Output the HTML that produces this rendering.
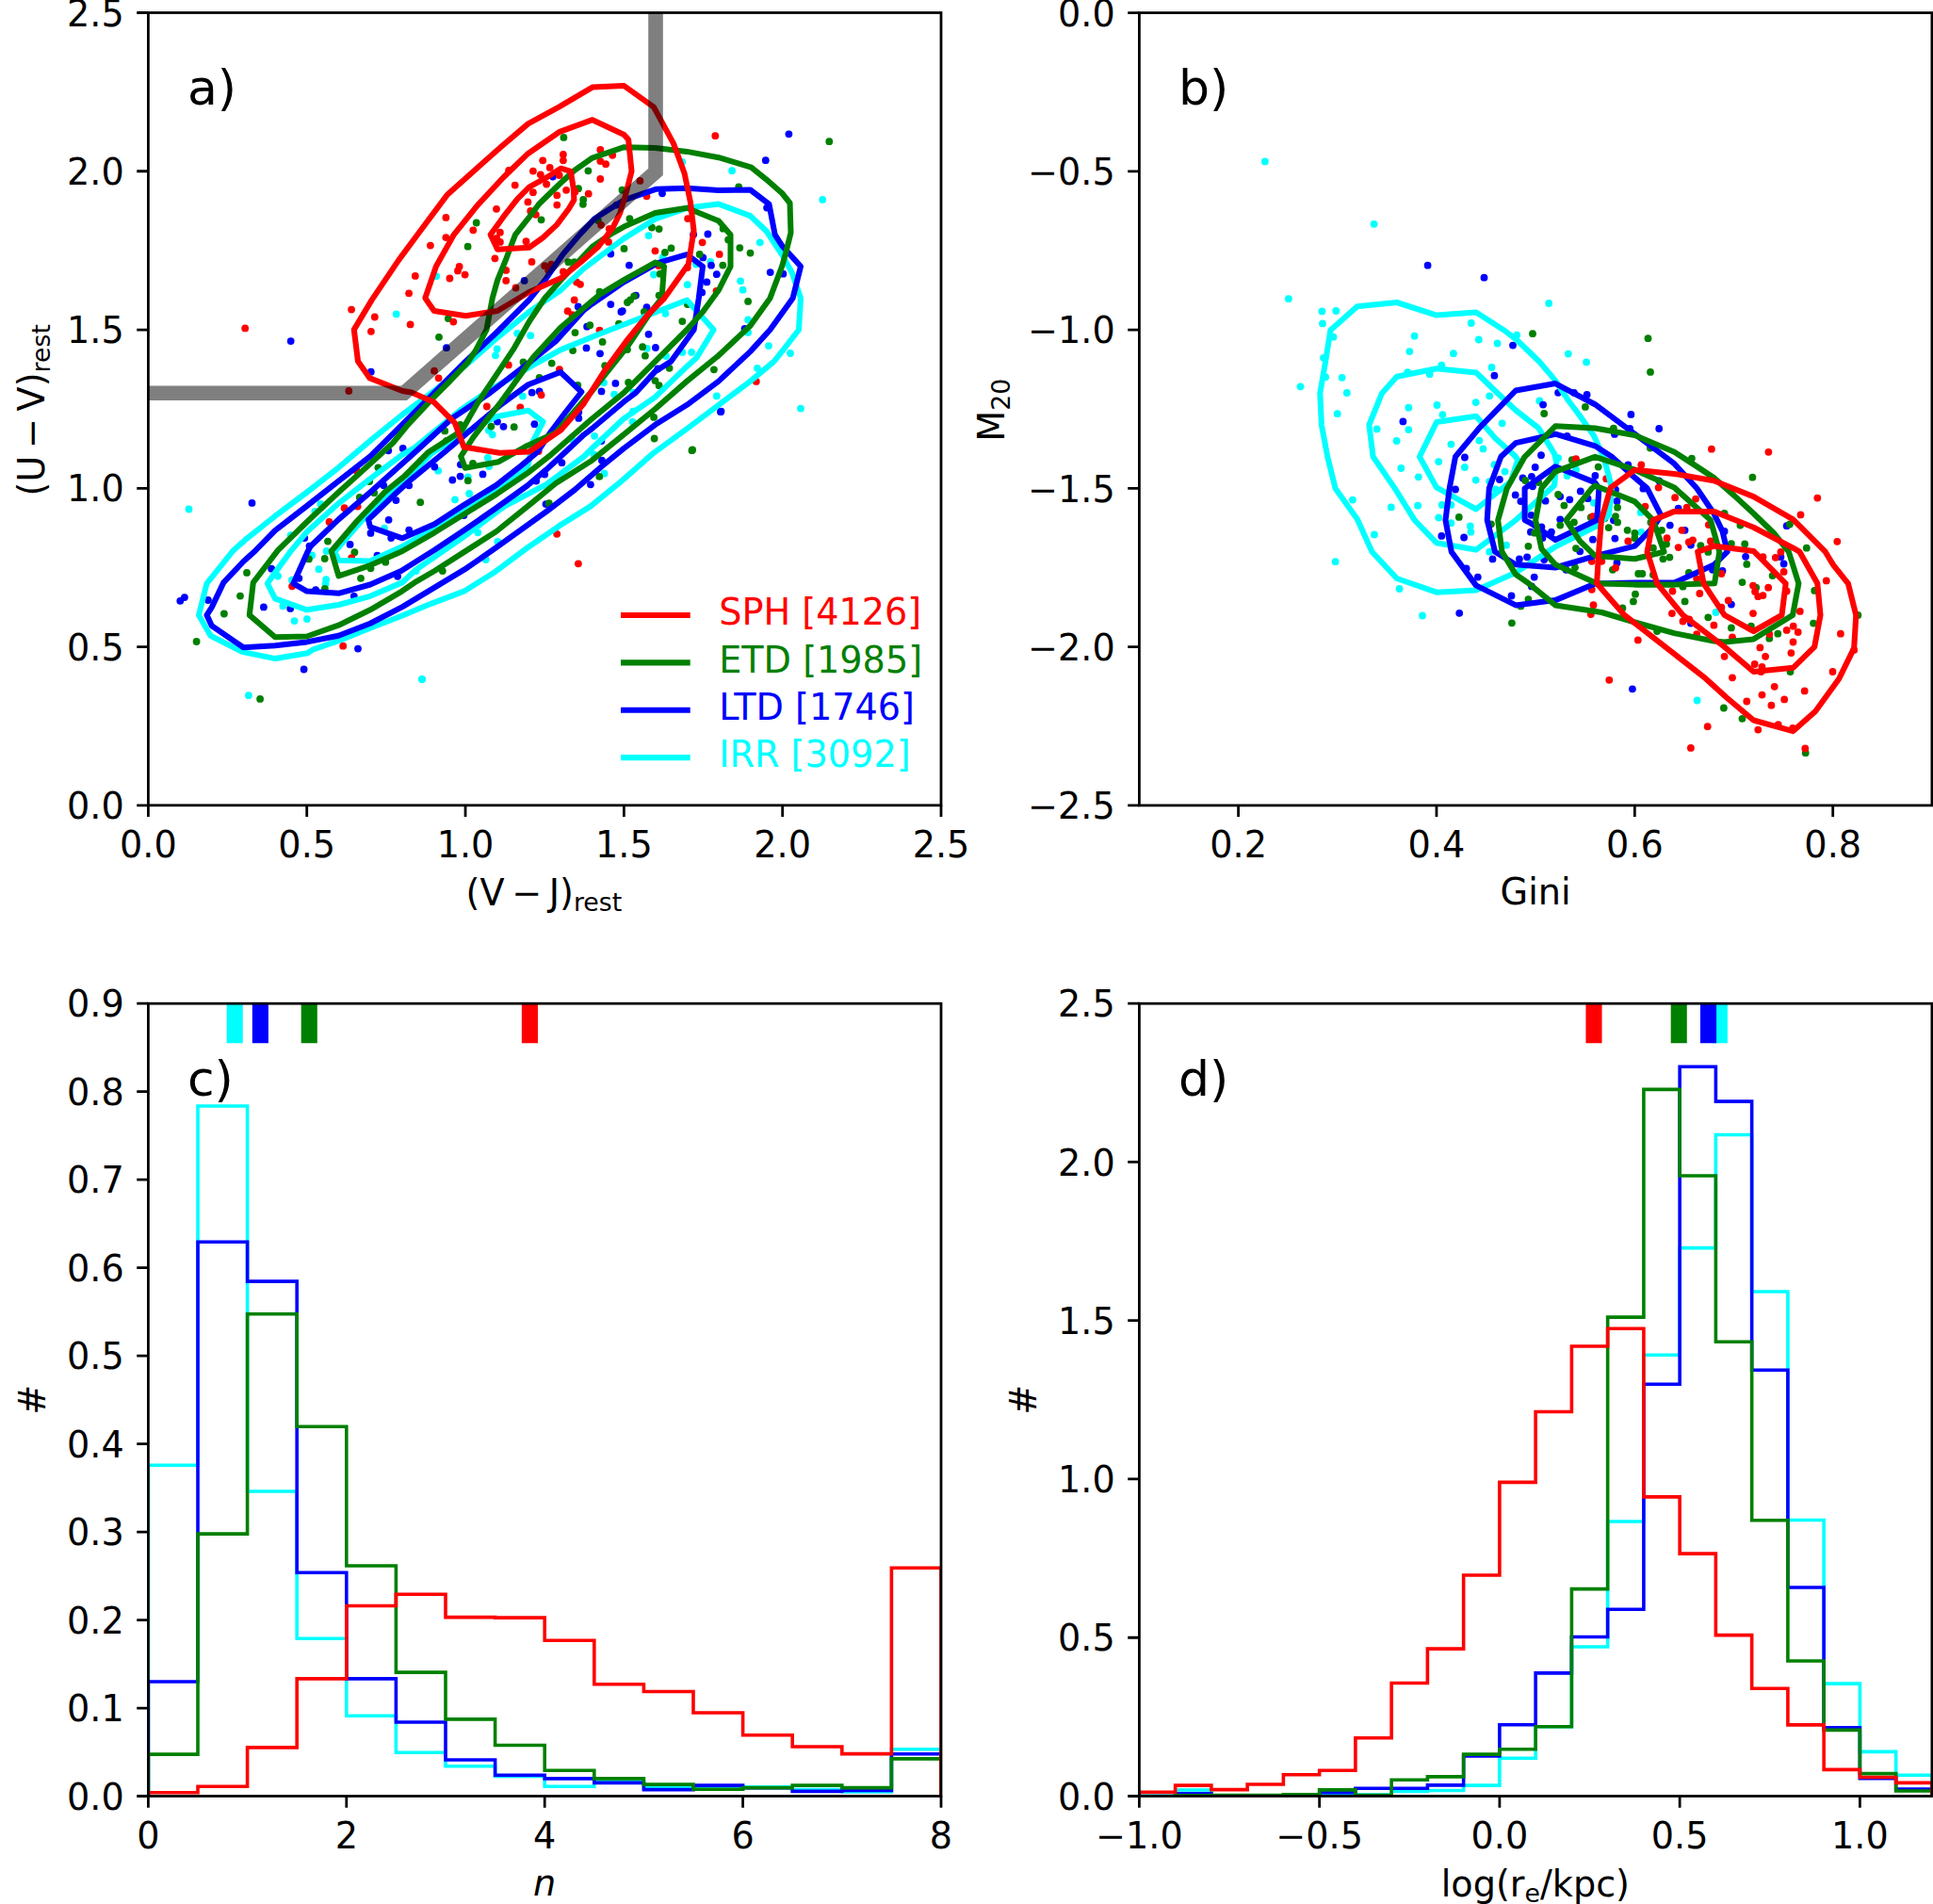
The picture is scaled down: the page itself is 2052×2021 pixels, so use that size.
<!DOCTYPE html>
<html><head><meta charset="utf-8"><title>figure</title><style>html,body{margin:0;padding:0;background:#fff}svg{display:block}</style></head><body>
<svg width="2052" height="2021" viewBox="0 0 2052 2021" font-family="'DejaVu Sans', 'Liberation Sans', sans-serif" font-size="38.19" fill="#000">
<rect width="2052" height="2021" fill="#fff"/>
<defs>
<clipPath id="cpa"><rect x="157.40" y="13.50" width="841.60" height="841.30"/></clipPath>
<clipPath id="cpb"><rect x="1209.40" y="13.60" width="841.50" height="841.30"/></clipPath>
<clipPath id="cpc"><rect x="157.40" y="1065.20" width="841.60" height="841.30"/></clipPath>
<clipPath id="cpd"><rect x="1209.40" y="1065.20" width="841.50" height="841.30"/></clipPath>
</defs>
<g clip-path="url(#cpa)">
<circle cx="420.7" cy="333.4" r="3.9" fill="#00ffff"/>
<circle cx="463.2" cy="293.2" r="3.9" fill="#00ffff"/>
<circle cx="549.1" cy="353.8" r="3.9" fill="#00ffff"/>
<circle cx="563.2" cy="356.2" r="3.9" fill="#00ffff"/>
<circle cx="724.3" cy="171.8" r="3.9" fill="#00ffff"/>
<circle cx="777.1" cy="181.2" r="3.9" fill="#00ffff"/>
<circle cx="873.2" cy="211.9" r="3.9" fill="#00ffff"/>
<circle cx="688.5" cy="250.1" r="3.9" fill="#00ffff"/>
<circle cx="806.7" cy="257.3" r="3.9" fill="#00ffff"/>
<circle cx="703.5" cy="273.4" r="3.9" fill="#00ffff"/>
<circle cx="754.2" cy="277.8" r="3.9" fill="#00ffff"/>
<circle cx="738.9" cy="280.5" r="3.9" fill="#00ffff"/>
<circle cx="694.0" cy="291.5" r="3.9" fill="#00ffff"/>
<circle cx="786.1" cy="298.3" r="3.9" fill="#00ffff"/>
<circle cx="729.8" cy="302.2" r="3.9" fill="#00ffff"/>
<circle cx="788.6" cy="307.7" r="3.9" fill="#00ffff"/>
<circle cx="706.5" cy="332.8" r="3.9" fill="#00ffff"/>
<circle cx="794.1" cy="339.5" r="3.9" fill="#00ffff"/>
<circle cx="794.1" cy="352.9" r="3.9" fill="#00ffff"/>
<circle cx="816.0" cy="367.1" r="3.9" fill="#00ffff"/>
<circle cx="686.8" cy="369.8" r="3.9" fill="#00ffff"/>
<circle cx="724.3" cy="373.9" r="3.9" fill="#00ffff"/>
<circle cx="734.2" cy="373.9" r="3.9" fill="#00ffff"/>
<circle cx="839.0" cy="375.0" r="3.9" fill="#00ffff"/>
<circle cx="707.0" cy="378.1" r="3.9" fill="#00ffff"/>
<circle cx="803.9" cy="390.8" r="3.9" fill="#00ffff"/>
<circle cx="760.8" cy="420.4" r="3.9" fill="#00ffff"/>
<circle cx="672.3" cy="416.7" r="3.9" fill="#00ffff"/>
<circle cx="850.0" cy="433.6" r="3.9" fill="#00ffff"/>
<circle cx="671.5" cy="447.7" r="3.9" fill="#00ffff"/>
<circle cx="630.5" cy="482.4" r="3.9" fill="#00ffff"/>
<circle cx="200.5" cy="540.5" r="3.9" fill="#00ffff"/>
<circle cx="340.3" cy="535.0" r="3.9" fill="#00ffff"/>
<circle cx="334.4" cy="542.9" r="3.9" fill="#00ffff"/>
<circle cx="308.6" cy="568.2" r="3.9" fill="#00ffff"/>
<circle cx="346.6" cy="584.9" r="3.9" fill="#00ffff"/>
<circle cx="338.4" cy="604.2" r="3.9" fill="#00ffff"/>
<circle cx="331.2" cy="589.5" r="3.9" fill="#00ffff"/>
<circle cx="295.0" cy="611.5" r="3.9" fill="#00ffff"/>
<circle cx="309.9" cy="615.7" r="3.9" fill="#00ffff"/>
<circle cx="346.2" cy="615.1" r="3.9" fill="#00ffff"/>
<circle cx="345.6" cy="619.7" r="3.9" fill="#00ffff"/>
<circle cx="300.3" cy="643.3" r="3.9" fill="#00ffff"/>
<circle cx="312.5" cy="659.1" r="3.9" fill="#00ffff"/>
<circle cx="325.9" cy="657.1" r="3.9" fill="#00ffff"/>
<circle cx="408.0" cy="560.6" r="3.9" fill="#00ffff"/>
<circle cx="408.0" cy="530.4" r="3.9" fill="#00ffff"/>
<circle cx="465.2" cy="499.7" r="3.9" fill="#00ffff"/>
<circle cx="519.1" cy="495.1" r="3.9" fill="#00ffff"/>
<circle cx="517.8" cy="485.9" r="3.9" fill="#00ffff"/>
<circle cx="496.8" cy="506.3" r="3.9" fill="#00ffff"/>
<circle cx="498.1" cy="524.0" r="3.9" fill="#00ffff"/>
<circle cx="483.0" cy="530.3" r="3.9" fill="#00ffff"/>
<circle cx="486.9" cy="544.3" r="3.9" fill="#00ffff"/>
<circle cx="533.5" cy="537.8" r="3.9" fill="#00ffff"/>
<circle cx="507.3" cy="565.3" r="3.9" fill="#00ffff"/>
<circle cx="528.3" cy="574.8" r="3.9" fill="#00ffff"/>
<circle cx="515.8" cy="594.0" r="3.9" fill="#00ffff"/>
<circle cx="441.6" cy="606.1" r="3.9" fill="#00ffff"/>
<circle cx="448.2" cy="720.9" r="3.9" fill="#00ffff"/>
<circle cx="672.1" cy="436.6" r="3.9" fill="#00ffff"/>
<circle cx="631.1" cy="462.8" r="3.9" fill="#00ffff"/>
<circle cx="606.9" cy="466.0" r="3.9" fill="#00ffff"/>
<circle cx="641.6" cy="502.7" r="3.9" fill="#00ffff"/>
<circle cx="527.7" cy="370.4" r="3.9" fill="#00ffff"/>
<circle cx="526.0" cy="377.3" r="3.9" fill="#00ffff"/>
<circle cx="554.9" cy="420.6" r="3.9" fill="#00ffff"/>
<circle cx="640.9" cy="406.2" r="3.9" fill="#00ffff"/>
<circle cx="652.1" cy="418.7" r="3.9" fill="#00ffff"/>
<circle cx="522.7" cy="461.3" r="3.9" fill="#00ffff"/>
<circle cx="518.8" cy="456.8" r="3.9" fill="#00ffff"/>
<circle cx="447.9" cy="720.9" r="3.9" fill="#00ffff"/>
<circle cx="263.9" cy="738.2" r="3.9" fill="#00ffff"/>
<circle cx="586.9" cy="187.6" r="3.9" fill="#0000ff"/>
<circle cx="556.6" cy="297.9" r="3.9" fill="#0000ff"/>
<circle cx="613.7" cy="325.5" r="3.9" fill="#0000ff"/>
<circle cx="648.3" cy="323.1" r="3.9" fill="#0000ff"/>
<circle cx="623.1" cy="346.7" r="3.9" fill="#0000ff"/>
<circle cx="659.4" cy="331.0" r="3.9" fill="#0000ff"/>
<circle cx="648.3" cy="269.5" r="3.9" fill="#0000ff"/>
<circle cx="654.6" cy="217.6" r="3.9" fill="#0000ff"/>
<circle cx="837.4" cy="142.3" r="3.9" fill="#0000ff"/>
<circle cx="812.8" cy="170.2" r="3.9" fill="#0000ff"/>
<circle cx="703.0" cy="205.3" r="3.9" fill="#0000ff"/>
<circle cx="814.1" cy="220.6" r="3.9" fill="#0000ff"/>
<circle cx="751.4" cy="248.5" r="3.9" fill="#0000ff"/>
<circle cx="736.1" cy="249.0" r="3.9" fill="#0000ff"/>
<circle cx="667.9" cy="281.6" r="3.9" fill="#0000ff"/>
<circle cx="746.3" cy="273.4" r="3.9" fill="#0000ff"/>
<circle cx="755.0" cy="281.7" r="3.9" fill="#0000ff"/>
<circle cx="760.8" cy="291.2" r="3.9" fill="#0000ff"/>
<circle cx="750.3" cy="299.4" r="3.9" fill="#0000ff"/>
<circle cx="817.7" cy="289.1" r="3.9" fill="#0000ff"/>
<circle cx="831.4" cy="290.7" r="3.9" fill="#0000ff"/>
<circle cx="745.2" cy="310.4" r="3.9" fill="#0000ff"/>
<circle cx="675.0" cy="313.6" r="3.9" fill="#0000ff"/>
<circle cx="660.8" cy="330.1" r="3.9" fill="#0000ff"/>
<circle cx="686.5" cy="326.2" r="3.9" fill="#0000ff"/>
<circle cx="790.5" cy="349.0" r="3.9" fill="#0000ff"/>
<circle cx="688.5" cy="354.8" r="3.9" fill="#0000ff"/>
<circle cx="695.9" cy="369.0" r="3.9" fill="#0000ff"/>
<circle cx="698.3" cy="391.5" r="3.9" fill="#0000ff"/>
<circle cx="765.0" cy="437.2" r="3.9" fill="#0000ff"/>
<circle cx="638.9" cy="488.7" r="3.9" fill="#0000ff"/>
<circle cx="267.5" cy="533.9" r="3.9" fill="#0000ff"/>
<circle cx="412.3" cy="478.3" r="3.9" fill="#0000ff"/>
<circle cx="427.7" cy="475.9" r="3.9" fill="#0000ff"/>
<circle cx="407.3" cy="515.3" r="3.9" fill="#0000ff"/>
<circle cx="434.2" cy="515.3" r="3.9" fill="#0000ff"/>
<circle cx="420.4" cy="531.1" r="3.9" fill="#0000ff"/>
<circle cx="412.6" cy="551.8" r="3.9" fill="#0000ff"/>
<circle cx="434.2" cy="562.6" r="3.9" fill="#0000ff"/>
<circle cx="393.5" cy="565.9" r="3.9" fill="#0000ff"/>
<circle cx="415.2" cy="571.1" r="3.9" fill="#0000ff"/>
<circle cx="323.3" cy="571.1" r="3.9" fill="#0000ff"/>
<circle cx="328.5" cy="579.6" r="3.9" fill="#0000ff"/>
<circle cx="371.6" cy="577.9" r="3.9" fill="#0000ff"/>
<circle cx="400.5" cy="589.7" r="3.9" fill="#0000ff"/>
<circle cx="288.2" cy="603.7" r="3.9" fill="#0000ff"/>
<circle cx="317.4" cy="613.8" r="3.9" fill="#0000ff"/>
<circle cx="195.9" cy="634.1" r="3.9" fill="#0000ff"/>
<circle cx="191.3" cy="637.8" r="3.9" fill="#0000ff"/>
<circle cx="220.9" cy="637.0" r="3.9" fill="#0000ff"/>
<circle cx="279.9" cy="644.4" r="3.9" fill="#0000ff"/>
<circle cx="308.2" cy="645.9" r="3.9" fill="#0000ff"/>
<circle cx="375.8" cy="632.8" r="3.9" fill="#0000ff"/>
<circle cx="335.1" cy="626.2" r="3.9" fill="#0000ff"/>
<circle cx="422.1" cy="611.8" r="3.9" fill="#0000ff"/>
<circle cx="380.0" cy="688.6" r="3.9" fill="#0000ff"/>
<circle cx="322.6" cy="710.5" r="3.9" fill="#0000ff"/>
<circle cx="461.3" cy="495.5" r="3.9" fill="#0000ff"/>
<circle cx="488.9" cy="493.1" r="3.9" fill="#0000ff"/>
<circle cx="512.5" cy="503.4" r="3.9" fill="#0000ff"/>
<circle cx="488.6" cy="505.6" r="3.9" fill="#0000ff"/>
<circle cx="480.3" cy="509.5" r="3.9" fill="#0000ff"/>
<circle cx="569.2" cy="510.5" r="3.9" fill="#0000ff"/>
<circle cx="578.2" cy="503.6" r="3.9" fill="#0000ff"/>
<circle cx="579.5" cy="535.1" r="3.9" fill="#0000ff"/>
<circle cx="492.4" cy="547.0" r="3.9" fill="#0000ff"/>
<circle cx="614.3" cy="437.6" r="3.9" fill="#0000ff"/>
<circle cx="614.3" cy="443.9" r="3.9" fill="#0000ff"/>
<circle cx="765.5" cy="436.6" r="3.9" fill="#0000ff"/>
<circle cx="638.4" cy="468.1" r="3.9" fill="#0000ff"/>
<circle cx="596.4" cy="491.2" r="3.9" fill="#0000ff"/>
<circle cx="626.9" cy="514.3" r="3.9" fill="#0000ff"/>
<circle cx="473.9" cy="369.2" r="3.9" fill="#0000ff"/>
<circle cx="622.5" cy="369.4" r="3.9" fill="#0000ff"/>
<circle cx="637.0" cy="375.3" r="3.9" fill="#0000ff"/>
<circle cx="564.7" cy="416.7" r="3.9" fill="#0000ff"/>
<circle cx="572.6" cy="415.4" r="3.9" fill="#0000ff"/>
<circle cx="653.4" cy="406.9" r="3.9" fill="#0000ff"/>
<circle cx="638.5" cy="415.4" r="3.9" fill="#0000ff"/>
<circle cx="534.5" cy="452.8" r="3.9" fill="#0000ff"/>
<circle cx="567.4" cy="450.2" r="3.9" fill="#0000ff"/>
<circle cx="528.0" cy="447.6" r="3.9" fill="#0000ff"/>
<circle cx="308.7" cy="362.1" r="3.9" fill="#0000ff"/>
<circle cx="393.8" cy="394.7" r="3.9" fill="#0000ff"/>
<circle cx="598.4" cy="145.9" r="3.9" fill="#008000"/>
<circle cx="624.4" cy="181.3" r="3.9" fill="#008000"/>
<circle cx="614.0" cy="200.2" r="3.9" fill="#008000"/>
<circle cx="619.2" cy="212.0" r="3.9" fill="#008000"/>
<circle cx="618.9" cy="216.8" r="3.9" fill="#008000"/>
<circle cx="574.6" cy="233.3" r="3.9" fill="#008000"/>
<circle cx="505.7" cy="236.5" r="3.9" fill="#008000"/>
<circle cx="496.6" cy="261.7" r="3.9" fill="#008000"/>
<circle cx="603.4" cy="278.2" r="3.9" fill="#008000"/>
<circle cx="609.7" cy="278.2" r="3.9" fill="#008000"/>
<circle cx="475.8" cy="338.1" r="3.9" fill="#008000"/>
<circle cx="466.0" cy="357.8" r="3.9" fill="#008000"/>
<circle cx="636.5" cy="309.7" r="3.9" fill="#008000"/>
<circle cx="626.3" cy="345.2" r="3.9" fill="#008000"/>
<circle cx="610.5" cy="353.1" r="3.9" fill="#008000"/>
<circle cx="657.0" cy="343.6" r="3.9" fill="#008000"/>
<circle cx="634.9" cy="234.1" r="3.9" fill="#008000"/>
<circle cx="880.3" cy="150.2" r="3.9" fill="#008000"/>
<circle cx="784.2" cy="198.5" r="3.9" fill="#008000"/>
<circle cx="660.5" cy="201.7" r="3.9" fill="#008000"/>
<circle cx="668.4" cy="232.1" r="3.9" fill="#008000"/>
<circle cx="692.0" cy="241.5" r="3.9" fill="#008000"/>
<circle cx="699.6" cy="243.1" r="3.9" fill="#008000"/>
<circle cx="767.6" cy="242.7" r="3.9" fill="#008000"/>
<circle cx="773.1" cy="254.5" r="3.9" fill="#008000"/>
<circle cx="662.5" cy="263.9" r="3.9" fill="#008000"/>
<circle cx="712.5" cy="263.4" r="3.9" fill="#008000"/>
<circle cx="705.9" cy="267.9" r="3.9" fill="#008000"/>
<circle cx="785.3" cy="263.1" r="3.9" fill="#008000"/>
<circle cx="796.5" cy="268.6" r="3.9" fill="#008000"/>
<circle cx="742.7" cy="269.9" r="3.9" fill="#008000"/>
<circle cx="767.3" cy="281.6" r="3.9" fill="#008000"/>
<circle cx="700.7" cy="290.7" r="3.9" fill="#008000"/>
<circle cx="699.6" cy="313.6" r="3.9" fill="#008000"/>
<circle cx="794.1" cy="319.9" r="3.9" fill="#008000"/>
<circle cx="673.1" cy="314.3" r="3.9" fill="#008000"/>
<circle cx="669.1" cy="318.3" r="3.9" fill="#008000"/>
<circle cx="666.0" cy="321.0" r="3.9" fill="#008000"/>
<circle cx="729.8" cy="323.0" r="3.9" fill="#008000"/>
<circle cx="683.8" cy="330.9" r="3.9" fill="#008000"/>
<circle cx="724.3" cy="341.1" r="3.9" fill="#008000"/>
<circle cx="682.1" cy="368.2" r="3.9" fill="#008000"/>
<circle cx="666.0" cy="371.1" r="3.9" fill="#008000"/>
<circle cx="684.9" cy="377.7" r="3.9" fill="#008000"/>
<circle cx="710.6" cy="390.8" r="3.9" fill="#008000"/>
<circle cx="757.9" cy="392.3" r="3.9" fill="#008000"/>
<circle cx="667.1" cy="406.0" r="3.9" fill="#008000"/>
<circle cx="695.5" cy="404.1" r="3.9" fill="#008000"/>
<circle cx="699.6" cy="409.2" r="3.9" fill="#008000"/>
<circle cx="694.6" cy="465.5" r="3.9" fill="#008000"/>
<circle cx="734.5" cy="478.2" r="3.9" fill="#008000"/>
<circle cx="401.4" cy="496.3" r="3.9" fill="#008000"/>
<circle cx="392.2" cy="511.0" r="3.9" fill="#008000"/>
<circle cx="397.2" cy="523.2" r="3.9" fill="#008000"/>
<circle cx="381.7" cy="527.8" r="3.9" fill="#008000"/>
<circle cx="348.0" cy="574.6" r="3.9" fill="#008000"/>
<circle cx="376.4" cy="586.2" r="3.9" fill="#008000"/>
<circle cx="344.7" cy="593.0" r="3.9" fill="#008000"/>
<circle cx="327.9" cy="593.4" r="3.9" fill="#008000"/>
<circle cx="262.0" cy="607.9" r="3.9" fill="#008000"/>
<circle cx="383.0" cy="613.8" r="3.9" fill="#008000"/>
<circle cx="393.5" cy="603.3" r="3.9" fill="#008000"/>
<circle cx="409.3" cy="596.7" r="3.9" fill="#008000"/>
<circle cx="255.0" cy="632.6" r="3.9" fill="#008000"/>
<circle cx="237.9" cy="651.5" r="3.9" fill="#008000"/>
<circle cx="344.9" cy="624.9" r="3.9" fill="#008000"/>
<circle cx="208.6" cy="681.0" r="3.9" fill="#008000"/>
<circle cx="502.0" cy="491.8" r="3.9" fill="#008000"/>
<circle cx="496.8" cy="510.2" r="3.9" fill="#008000"/>
<circle cx="446.2" cy="533.2" r="3.9" fill="#008000"/>
<circle cx="469.8" cy="606.1" r="3.9" fill="#008000"/>
<circle cx="694.1" cy="442.9" r="3.9" fill="#008000"/>
<circle cx="735.1" cy="477.5" r="3.9" fill="#008000"/>
<circle cx="636.3" cy="505.9" r="3.9" fill="#008000"/>
<circle cx="582.8" cy="534.2" r="3.9" fill="#008000"/>
<circle cx="639.6" cy="362.9" r="3.9" fill="#008000"/>
<circle cx="608.1" cy="372.1" r="3.9" fill="#008000"/>
<circle cx="585.7" cy="385.6" r="3.9" fill="#008000"/>
<circle cx="555.5" cy="384.5" r="3.9" fill="#008000"/>
<circle cx="642.2" cy="388.2" r="3.9" fill="#008000"/>
<circle cx="572.6" cy="401.0" r="3.9" fill="#008000"/>
<circle cx="613.3" cy="408.8" r="3.9" fill="#008000"/>
<circle cx="545.7" cy="453.2" r="3.9" fill="#008000"/>
<circle cx="521.4" cy="452.6" r="3.9" fill="#008000"/>
<circle cx="488.6" cy="450.8" r="3.9" fill="#008000"/>
<circle cx="472.2" cy="457.4" r="3.9" fill="#008000"/>
<circle cx="474.1" cy="467.9" r="3.9" fill="#008000"/>
<circle cx="276.1" cy="741.9" r="3.9" fill="#008000"/>
<circle cx="597.9" cy="164.0" r="3.9" fill="#ff0000"/>
<circle cx="597.9" cy="170.3" r="3.9" fill="#ff0000"/>
<circle cx="576.2" cy="170.3" r="3.9" fill="#ff0000"/>
<circle cx="637.3" cy="158.9" r="3.9" fill="#ff0000"/>
<circle cx="650.2" cy="164.8" r="3.9" fill="#ff0000"/>
<circle cx="637.3" cy="171.1" r="3.9" fill="#ff0000"/>
<circle cx="643.1" cy="174.2" r="3.9" fill="#ff0000"/>
<circle cx="583.7" cy="177.9" r="3.9" fill="#ff0000"/>
<circle cx="540.1" cy="181.0" r="3.9" fill="#ff0000"/>
<circle cx="565.9" cy="181.6" r="3.9" fill="#ff0000"/>
<circle cx="573.8" cy="185.3" r="3.9" fill="#ff0000"/>
<circle cx="593.7" cy="186.0" r="3.9" fill="#ff0000"/>
<circle cx="637.3" cy="190.0" r="3.9" fill="#ff0000"/>
<circle cx="580.1" cy="195.5" r="3.9" fill="#ff0000"/>
<circle cx="546.7" cy="196.6" r="3.9" fill="#ff0000"/>
<circle cx="601.1" cy="201.8" r="3.9" fill="#ff0000"/>
<circle cx="565.9" cy="204.2" r="3.9" fill="#ff0000"/>
<circle cx="610.5" cy="203.4" r="3.9" fill="#ff0000"/>
<circle cx="591.3" cy="207.3" r="3.9" fill="#ff0000"/>
<circle cx="624.7" cy="205.7" r="3.9" fill="#ff0000"/>
<circle cx="560.4" cy="214.4" r="3.9" fill="#ff0000"/>
<circle cx="591.3" cy="217.6" r="3.9" fill="#ff0000"/>
<circle cx="527.0" cy="221.8" r="3.9" fill="#ff0000"/>
<circle cx="563.2" cy="223.9" r="3.9" fill="#ff0000"/>
<circle cx="568.8" cy="227.8" r="3.9" fill="#ff0000"/>
<circle cx="473.4" cy="230.9" r="3.9" fill="#ff0000"/>
<circle cx="530.9" cy="246.7" r="3.9" fill="#ff0000"/>
<circle cx="502.3" cy="244.3" r="3.9" fill="#ff0000"/>
<circle cx="473.4" cy="252.2" r="3.9" fill="#ff0000"/>
<circle cx="530.9" cy="256.9" r="3.9" fill="#ff0000"/>
<circle cx="527.3" cy="253.0" r="3.9" fill="#ff0000"/>
<circle cx="558.5" cy="256.2" r="3.9" fill="#ff0000"/>
<circle cx="456.9" cy="260.6" r="3.9" fill="#ff0000"/>
<circle cx="525.4" cy="274.3" r="3.9" fill="#ff0000"/>
<circle cx="564.5" cy="277.9" r="3.9" fill="#ff0000"/>
<circle cx="487.6" cy="282.9" r="3.9" fill="#ff0000"/>
<circle cx="486.0" cy="287.4" r="3.9" fill="#ff0000"/>
<circle cx="493.6" cy="291.6" r="3.9" fill="#ff0000"/>
<circle cx="477.4" cy="295.5" r="3.9" fill="#ff0000"/>
<circle cx="537.2" cy="286.9" r="3.9" fill="#ff0000"/>
<circle cx="440.8" cy="292.9" r="3.9" fill="#ff0000"/>
<circle cx="537.2" cy="297.9" r="3.9" fill="#ff0000"/>
<circle cx="547.5" cy="305.5" r="3.9" fill="#ff0000"/>
<circle cx="578.2" cy="282.2" r="3.9" fill="#ff0000"/>
<circle cx="585.3" cy="280.6" r="3.9" fill="#ff0000"/>
<circle cx="582.2" cy="286.9" r="3.9" fill="#ff0000"/>
<circle cx="434.1" cy="311.3" r="3.9" fill="#ff0000"/>
<circle cx="373.1" cy="328.6" r="3.9" fill="#ff0000"/>
<circle cx="397.8" cy="336.5" r="3.9" fill="#ff0000"/>
<circle cx="435.6" cy="344.4" r="3.9" fill="#ff0000"/>
<circle cx="481.3" cy="341.6" r="3.9" fill="#ff0000"/>
<circle cx="393.9" cy="351.8" r="3.9" fill="#ff0000"/>
<circle cx="597.9" cy="288.5" r="3.9" fill="#ff0000"/>
<circle cx="612.1" cy="299.5" r="3.9" fill="#ff0000"/>
<circle cx="616.0" cy="301.8" r="3.9" fill="#ff0000"/>
<circle cx="609.7" cy="318.4" r="3.9" fill="#ff0000"/>
<circle cx="602.6" cy="330.2" r="3.9" fill="#ff0000"/>
<circle cx="607.4" cy="334.1" r="3.9" fill="#ff0000"/>
<circle cx="646.0" cy="256.9" r="3.9" fill="#ff0000"/>
<circle cx="638.1" cy="238.8" r="3.9" fill="#ff0000"/>
<circle cx="636.5" cy="350.7" r="3.9" fill="#ff0000"/>
<circle cx="646.7" cy="242.8" r="3.9" fill="#ff0000"/>
<circle cx="759.3" cy="144.2" r="3.9" fill="#ff0000"/>
<circle cx="679.4" cy="191.9" r="3.9" fill="#ff0000"/>
<circle cx="686.5" cy="208.3" r="3.9" fill="#ff0000"/>
<circle cx="730.1" cy="232.1" r="3.9" fill="#ff0000"/>
<circle cx="745.6" cy="257.3" r="3.9" fill="#ff0000"/>
<circle cx="695.5" cy="266.3" r="3.9" fill="#ff0000"/>
<circle cx="763.7" cy="269.9" r="3.9" fill="#ff0000"/>
<circle cx="729.8" cy="284.1" r="3.9" fill="#ff0000"/>
<circle cx="699.1" cy="282.0" r="3.9" fill="#ff0000"/>
<circle cx="760.5" cy="308.8" r="3.9" fill="#ff0000"/>
<circle cx="802.8" cy="404.9" r="3.9" fill="#ff0000"/>
<circle cx="378.4" cy="499.5" r="3.9" fill="#ff0000"/>
<circle cx="365.6" cy="539.2" r="3.9" fill="#ff0000"/>
<circle cx="379.7" cy="537.6" r="3.9" fill="#ff0000"/>
<circle cx="349.5" cy="554.0" r="3.9" fill="#ff0000"/>
<circle cx="373.2" cy="592.1" r="3.9" fill="#ff0000"/>
<circle cx="310.1" cy="622.3" r="3.9" fill="#ff0000"/>
<circle cx="364.2" cy="685.7" r="3.9" fill="#ff0000"/>
<circle cx="591.2" cy="566.8" r="3.9" fill="#ff0000"/>
<circle cx="613.9" cy="598.3" r="3.9" fill="#ff0000"/>
<circle cx="461.0" cy="393.7" r="3.9" fill="#ff0000"/>
<circle cx="465.6" cy="401.3" r="3.9" fill="#ff0000"/>
<circle cx="539.8" cy="387.4" r="3.9" fill="#ff0000"/>
<circle cx="593.9" cy="392.2" r="3.9" fill="#ff0000"/>
<circle cx="574.6" cy="419.3" r="3.9" fill="#ff0000"/>
<circle cx="516.8" cy="431.5" r="3.9" fill="#ff0000"/>
<circle cx="552.3" cy="432.5" r="3.9" fill="#ff0000"/>
<circle cx="571.7" cy="479.1" r="3.9" fill="#ff0000"/>
<circle cx="370.3" cy="415.0" r="3.9" fill="#ff0000"/>
<circle cx="260.2" cy="348.4" r="3.9" fill="#ff0000"/>
<path d="M796.5 229.2 L762.9 216.6 L729.2 220.8 L695.6 232.4 L662.0 253.4 L620.0 284.9 L595.3 307.9 L561.7 331.0 L528.1 358.3 L494.5 387.7 L460.8 415.0 L426.0 441.0 L393.8 467.1 L359.4 496.3 L325.8 522.5 L292.4 547.5 L259.6 573.7 L247.8 584.2 L219.5 619.3 L211.0 652.9 L223.5 674.8 L257.0 691.9 L292.4 699.1 L326.6 693.2 L332.5 689.3 L359.4 680.1 L392.2 667.0 L426.3 653.8 L458.8 640.3 L492.4 627.7 L526.0 606.7 L559.7 581.5 L593.3 558.4 L626.9 537.4 L660.5 510.1 L694.1 480.6 L729.2 455.1 L762.9 429.8 L796.5 404.6 L821.7 383.6 L830.1 373.1 L848.0 350.0 L850.0 316.4 L840.6 289.1 L830.1 270.2 L813.3 245.0Z" stroke="#00ffff" stroke-width="6.05" fill="none" stroke-linejoin="round"/>
<path d="M729.2 318.5 L684.2 336.0 L637.0 354.3 L595.0 371.4 L571.3 384.5 L555.5 393.7 L518.8 414.7 L490.0 434.4 L440.0 475.3 L426.3 483.1 L393.0 508.1 L359.4 534.3 L325.8 564.5 L308.2 585.6 L292.0 607.9 L283.9 619.3 L292.0 635.4 L325.8 647.3 L359.4 642.0 L393.0 632.8 L426.7 618.4 L441.6 604.7 L492.0 570.0 L534.8 537.8 L580.0 514.1 L620.0 484.5 L628.4 476.0 L662.0 444.5 L695.6 421.4 L729.2 388.9 L739.7 379.4 L757.6 350.0Z" stroke="#00ffff" stroke-width="6.05" fill="none" stroke-linejoin="round"/>
<path d="M526.7 442.3 L560.8 435.7 L576.6 447.6 L566.0 468.0 L559.8 497.3 L527.0 519.6 L492.8 540.7 L461.3 560.3 L427.2 580.0 L393.0 595.6 L359.4 594.7 L355.4 585.6 L382.0 555.0 L412.0 523.5 L433.0 506.5 L458.5 481.0 L492.0 460.0Z" stroke="#00ffff" stroke-width="6.05" fill="none" stroke-linejoin="round"/>
<path d="M696.1 200.8 L662.5 212.3 L631.0 232.3 L615.3 249.1 L597.4 270.1 L578.5 297.4 L561.7 318.4 L528.1 352.0 L494.5 383.5 L460.8 417.1 L429.5 448.2 L393.0 484.4 L359.4 510.7 L325.8 537.0 L292.0 563.2 L271.4 584.2 L258.4 596.0 L237.3 618.4 L224.8 644.6 L219.5 652.9 L224.8 664.3 L258.4 687.3 L292.0 685.3 L325.8 681.4 L359.4 674.8 L393.0 661.7 L427.2 644.1 L492.8 604.7 L527.0 581.1 L580.0 543.0 L610.0 520.0 L638.9 495.0 L662.0 476.1 L695.6 450.8 L729.2 429.8 L762.9 404.6 L796.5 373.1 L817.5 350.0 L841.6 316.4 L850.0 282.8 L830.1 260.7 L822.7 249.2 L816.4 216.6 L796.5 201.5 L762.9 201.9 L729.2 199.8Z" stroke="#0000ff" stroke-width="6.05" fill="none" stroke-linejoin="round"/>
<path d="M729.2 270.2 L699.8 278.6 L695.6 280.7 L662.0 299.6 L628.4 322.7 L620.0 329.0 L590.0 362.1 L563.9 383.1 L517.7 418.8 L479.9 444.0 L440.0 480.5 L393.0 522.5 L359.4 551.4 L329.2 580.3 L326.6 585.6 L311.5 619.3 L325.8 627.6 L360.2 629.7 L393.0 620.5 L425.9 606.0 L461.3 583.7 L492.8 562.7 L527.0 539.1 L559.8 515.5 L580.0 498.4 L600.0 480.0 L620.0 461.3 L628.4 455.0 L662.0 426.7 L674.6 417.2 L695.6 394.1 L712.4 383.6 L736.6 350.0 L741.8 316.4 L746.0 282.8Z" stroke="#0000ff" stroke-width="6.05" fill="none" stroke-linejoin="round"/>
<path d="M595.0 395.0 L617.3 416.0 L600.0 438.0 L585.0 458.0 L570.3 480.0 L553.2 494.4 L527.0 514.8 L492.8 535.8 L461.3 556.2 L427.2 571.3 L393.0 559.4 L391.0 551.6 L420.6 523.3 L435.0 510.2 L471.8 480.0 L532.0 429.2 L560.8 408.2Z" stroke="#0000ff" stroke-width="6.05" fill="none" stroke-linejoin="round"/>
<path d="M662.5 156.2 L695.6 157.1 L729.2 160.9 L762.9 167.2 L797.5 177.7 L813.3 190.3 L830.1 205.0 L838.5 215.5 L839.5 247.1 L834.3 268.1 L830.1 282.8 L817.5 316.4 L796.5 345.8 L762.9 377.3 L729.2 404.6 L695.6 434.0 L662.0 461.3 L628.4 488.7 L590.0 513.0 L563.9 534.4 L527.0 564.0 L496.7 583.4 L461.3 606.0 L440.0 618.4 L426.7 627.6 L393.0 647.3 L359.4 663.7 L325.8 675.5 L292.0 676.2 L264.8 652.9 L268.8 618.4 L295.0 584.2 L325.8 554.0 L359.4 522.5 L393.0 492.3 L417.2 470.0 L432.0 452.0 L460.8 421.3 L477.6 404.5 L496.6 384.6 L505.0 372.0 L516.5 349.9 L522.8 316.3 L528.1 297.4 L537.5 274.3 L547.0 249.1 L561.3 231.2 L572.2 216.5 L594.9 194.5 L610.0 180.8 L628.9 167.6Z" stroke="#008000" stroke-width="6.05" fill="none" stroke-linejoin="round"/>
<path d="M729.2 220.8 L695.6 226.0 L662.0 240.8 L647.3 249.2 L628.9 261.7 L595.3 297.4 L578.5 316.3 L561.7 341.5 L544.9 370.9 L528.1 396.1 L507.1 427.6 L490.3 457.1 L454.7 480.0 L429.8 505.0 L408.8 522.0 L378.6 553.5 L351.7 585.0 L359.5 611.3 L393.0 600.1 L427.2 585.0 L461.3 565.3 L492.8 545.7 L527.0 524.6 L559.8 502.3 L585.0 482.6 L628.4 444.5 L662.0 417.2 L695.6 383.6 L729.2 350.0 L746.0 331.1 L762.9 308.0 L775.5 282.8 L775.5 249.2 L762.9 234.5Z" stroke="#008000" stroke-width="6.05" fill="none" stroke-linejoin="round"/>
<path d="M695.6 278.6 L705.0 282.8 L702.6 316.4 L690.0 332.4 L665.8 368.2 L629.0 414.4 L589.7 459.4 L558.2 473.8 L529.3 490.2 L493.8 496.8 L489.2 484.3 L503.0 463.3 L531.9 426.6 L566.0 379.3 L595.0 347.8 L637.0 312.3 L663.2 296.6Z" stroke="#008000" stroke-width="6.05" fill="none" stroke-linejoin="round"/>
<path d="M375.8 349.9 L394.7 318.4 L423.0 276.4 L444.0 248.0 L474.5 207.1 L505.0 179.7 L532.3 155.6 L560.6 131.4 L593.2 113.6 L628.9 92.6 L662.5 91.1 L694.0 113.6 L715.0 152.4 L726.6 184.0 L732.9 214.4 L736.5 244.9 L730.8 280.6 L704.5 317.4 L686.7 335.2 L664.6 362.5 L641.5 394.0 L619.5 428.7 L595.4 456.5 L561.8 479.6 L530.3 480.7 L492.4 474.4 L483.0 449.2 L460.9 427.1 L436.8 416.6 L427.2 415.0 L392.6 401.4 L380.0 383.5Z" stroke="#ff0000" stroke-width="6.05" fill="none" stroke-linejoin="round"/>
<path d="M628.9 127.2 L662.5 143.0 L667.1 148.2 L670.5 181.8 L664.6 205.0 L658.3 226.0 L649.9 242.8 L635.2 261.7 L616.3 278.5 L595.3 295.3 L561.7 310.0 L528.1 330.0 L494.5 335.2 L460.8 330.0 L455.6 322.6 L451.4 316.3 L462.9 282.7 L481.8 249.1 L507.1 217.6 L534.4 188.2 L560.6 162.9 L594.2 139.8Z" stroke="#ff0000" stroke-width="6.05" fill="none" stroke-linejoin="round"/>
<path d="M595.3 178.7 L605.8 181.8 L608.9 200.8 L609.4 212.3 L603.7 221.8 L591.1 238.6 L576.4 252.2 L561.7 262.7 L528.1 264.8 L520.7 249.1 L534.4 230.2 L549.1 211.3 L561.7 198.7 L580.6 188.2Z" stroke="#ff0000" stroke-width="6.05" fill="none" stroke-linejoin="round"/>
<path d="M157.40 417.32 L429.00 417.32 L696.02 182.43 L696.02 13.50" stroke="#000" stroke-opacity="0.5" stroke-width="15.60" fill="none" stroke-linejoin="miter" stroke-linecap="butt"/>
</g>
<g clip-path="url(#cpb)">
<circle cx="1367.9" cy="317.2" r="3.9" fill="#00ffff"/>
<circle cx="1403.4" cy="330.4" r="3.9" fill="#00ffff"/>
<circle cx="1418.3" cy="330.0" r="3.9" fill="#00ffff"/>
<circle cx="1404.0" cy="343.4" r="3.9" fill="#00ffff"/>
<circle cx="1415.5" cy="357.7" r="3.9" fill="#00ffff"/>
<circle cx="1405.0" cy="379.8" r="3.9" fill="#00ffff"/>
<circle cx="1407.1" cy="400.2" r="3.9" fill="#00ffff"/>
<circle cx="1424.6" cy="400.8" r="3.9" fill="#00ffff"/>
<circle cx="1380.5" cy="410.3" r="3.9" fill="#00ffff"/>
<circle cx="1429.8" cy="417.0" r="3.9" fill="#00ffff"/>
<circle cx="1419.7" cy="439.2" r="3.9" fill="#00ffff"/>
<circle cx="1435.9" cy="530.6" r="3.9" fill="#00ffff"/>
<circle cx="1417.6" cy="596.2" r="3.9" fill="#00ffff"/>
<circle cx="1644.2" cy="322.0" r="3.9" fill="#00ffff"/>
<circle cx="1561.8" cy="343.0" r="3.9" fill="#00ffff"/>
<circle cx="1501.6" cy="356.7" r="3.9" fill="#00ffff"/>
<circle cx="1610.2" cy="355.6" r="3.9" fill="#00ffff"/>
<circle cx="1569.8" cy="360.5" r="3.9" fill="#00ffff"/>
<circle cx="1589.6" cy="364.5" r="3.9" fill="#00ffff"/>
<circle cx="1496.3" cy="373.1" r="3.9" fill="#00ffff"/>
<circle cx="1542.9" cy="375.2" r="3.9" fill="#00ffff"/>
<circle cx="1664.8" cy="375.6" r="3.9" fill="#00ffff"/>
<circle cx="1684.1" cy="384.4" r="3.9" fill="#00ffff"/>
<circle cx="1530.3" cy="387.6" r="3.9" fill="#00ffff"/>
<circle cx="1583.5" cy="389.9" r="3.9" fill="#00ffff"/>
<circle cx="1517.7" cy="397.2" r="3.9" fill="#00ffff"/>
<circle cx="1494.2" cy="395.1" r="3.9" fill="#00ffff"/>
<circle cx="1581.2" cy="420.3" r="3.9" fill="#00ffff"/>
<circle cx="1634.3" cy="425.4" r="3.9" fill="#00ffff"/>
<circle cx="1566.7" cy="427.1" r="3.9" fill="#00ffff"/>
<circle cx="1525.5" cy="430.0" r="3.9" fill="#00ffff"/>
<circle cx="1495.3" cy="432.7" r="3.9" fill="#00ffff"/>
<circle cx="1531.4" cy="440.1" r="3.9" fill="#00ffff"/>
<circle cx="1594.6" cy="449.3" r="3.9" fill="#00ffff"/>
<circle cx="1461.6" cy="455.4" r="3.9" fill="#00ffff"/>
<circle cx="1495.3" cy="456.1" r="3.9" fill="#00ffff"/>
<circle cx="1570.3" cy="467.6" r="3.9" fill="#00ffff"/>
<circle cx="1482.6" cy="468.0" r="3.9" fill="#00ffff"/>
<circle cx="1540.4" cy="471.6" r="3.9" fill="#00ffff"/>
<circle cx="1574.5" cy="476.4" r="3.9" fill="#00ffff"/>
<circle cx="1527.2" cy="490.1" r="3.9" fill="#00ffff"/>
<circle cx="1554.9" cy="496.0" r="3.9" fill="#00ffff"/>
<circle cx="1487.3" cy="497.0" r="3.9" fill="#00ffff"/>
<circle cx="1586.4" cy="493.2" r="3.9" fill="#00ffff"/>
<circle cx="1597.6" cy="500.6" r="3.9" fill="#00ffff"/>
<circle cx="1505.8" cy="506.3" r="3.9" fill="#00ffff"/>
<circle cx="1566.7" cy="509.6" r="3.9" fill="#00ffff"/>
<circle cx="1581.2" cy="511.1" r="3.9" fill="#00ffff"/>
<circle cx="1587.7" cy="519.5" r="3.9" fill="#00ffff"/>
<circle cx="1505.1" cy="536.7" r="3.9" fill="#00ffff"/>
<circle cx="1530.8" cy="535.9" r="3.9" fill="#00ffff"/>
<circle cx="1540.4" cy="535.9" r="3.9" fill="#00ffff"/>
<circle cx="1476.8" cy="538.4" r="3.9" fill="#00ffff"/>
<circle cx="1527.2" cy="549.5" r="3.9" fill="#00ffff"/>
<circle cx="1540.4" cy="555.2" r="3.9" fill="#00ffff"/>
<circle cx="1560.8" cy="558.4" r="3.9" fill="#00ffff"/>
<circle cx="1561.4" cy="564.7" r="3.9" fill="#00ffff"/>
<circle cx="1458.9" cy="567.4" r="3.9" fill="#00ffff"/>
<circle cx="1599.0" cy="578.7" r="3.9" fill="#00ffff"/>
<circle cx="1581.2" cy="585.7" r="3.9" fill="#00ffff"/>
<circle cx="1485.6" cy="625.0" r="3.9" fill="#00ffff"/>
<circle cx="1510.0" cy="653.5" r="3.9" fill="#00ffff"/>
<circle cx="1654.1" cy="486.1" r="3.9" fill="#00ffff"/>
<circle cx="1673.0" cy="498.7" r="3.9" fill="#00ffff"/>
<circle cx="1663.6" cy="505.0" r="3.9" fill="#00ffff"/>
<circle cx="1691.9" cy="533.8" r="3.9" fill="#00ffff"/>
<circle cx="1741.7" cy="543.9" r="3.9" fill="#00ffff"/>
<circle cx="1742.3" cy="564.9" r="3.9" fill="#00ffff"/>
<circle cx="1821.5" cy="650.0" r="3.9" fill="#00ffff"/>
<circle cx="1801.6" cy="743.5" r="3.9" fill="#00ffff"/>
<circle cx="1342.9" cy="171.4" r="3.9" fill="#00ffff"/>
<circle cx="1458.6" cy="237.8" r="3.9" fill="#00ffff"/>
<circle cx="1515.6" cy="281.7" r="3.9" fill="#0000ff"/>
<circle cx="1575.5" cy="294.7" r="3.9" fill="#0000ff"/>
<circle cx="1606.0" cy="366.6" r="3.9" fill="#0000ff"/>
<circle cx="1586.4" cy="398.7" r="3.9" fill="#0000ff"/>
<circle cx="1638.1" cy="429.6" r="3.9" fill="#0000ff"/>
<circle cx="1489.4" cy="447.4" r="3.9" fill="#0000ff"/>
<circle cx="1636.0" cy="483.2" r="3.9" fill="#0000ff"/>
<circle cx="1554.9" cy="485.5" r="3.9" fill="#0000ff"/>
<circle cx="1629.7" cy="496.0" r="3.9" fill="#0000ff"/>
<circle cx="1616.5" cy="507.5" r="3.9" fill="#0000ff"/>
<circle cx="1625.9" cy="505.8" r="3.9" fill="#0000ff"/>
<circle cx="1591.9" cy="509.0" r="3.9" fill="#0000ff"/>
<circle cx="1627.0" cy="516.3" r="3.9" fill="#0000ff"/>
<circle cx="1545.0" cy="519.5" r="3.9" fill="#0000ff"/>
<circle cx="1608.7" cy="525.4" r="3.9" fill="#0000ff"/>
<circle cx="1640.6" cy="531.7" r="3.9" fill="#0000ff"/>
<circle cx="1614.4" cy="532.1" r="3.9" fill="#0000ff"/>
<circle cx="1625.5" cy="546.8" r="3.9" fill="#0000ff"/>
<circle cx="1636.4" cy="559.4" r="3.9" fill="#0000ff"/>
<circle cx="1624.9" cy="564.7" r="3.9" fill="#0000ff"/>
<circle cx="1646.9" cy="564.7" r="3.9" fill="#0000ff"/>
<circle cx="1530.3" cy="568.9" r="3.9" fill="#0000ff"/>
<circle cx="1554.1" cy="570.5" r="3.9" fill="#0000ff"/>
<circle cx="1637.5" cy="571.0" r="3.9" fill="#0000ff"/>
<circle cx="1621.1" cy="591.3" r="3.9" fill="#0000ff"/>
<circle cx="1584.5" cy="593.4" r="3.9" fill="#0000ff"/>
<circle cx="1612.9" cy="593.4" r="3.9" fill="#0000ff"/>
<circle cx="1639.2" cy="594.1" r="3.9" fill="#0000ff"/>
<circle cx="1556.6" cy="603.5" r="3.9" fill="#0000ff"/>
<circle cx="1568.8" cy="612.6" r="3.9" fill="#0000ff"/>
<circle cx="1628.7" cy="612.6" r="3.9" fill="#0000ff"/>
<circle cx="1625.9" cy="622.4" r="3.9" fill="#0000ff"/>
<circle cx="1604.5" cy="632.5" r="3.9" fill="#0000ff"/>
<circle cx="1549.2" cy="650.8" r="3.9" fill="#0000ff"/>
<circle cx="1654.1" cy="416.8" r="3.9" fill="#0000ff"/>
<circle cx="1670.9" cy="416.8" r="3.9" fill="#0000ff"/>
<circle cx="1684.6" cy="418.9" r="3.9" fill="#0000ff"/>
<circle cx="1731.4" cy="439.9" r="3.9" fill="#0000ff"/>
<circle cx="1730.2" cy="455.0" r="3.9" fill="#0000ff"/>
<circle cx="1761.2" cy="455.0" r="3.9" fill="#0000ff"/>
<circle cx="1714.0" cy="460.9" r="3.9" fill="#0000ff"/>
<circle cx="1663.6" cy="463.0" r="3.9" fill="#0000ff"/>
<circle cx="1728.3" cy="493.5" r="3.9" fill="#0000ff"/>
<circle cx="1693.4" cy="505.0" r="3.9" fill="#0000ff"/>
<circle cx="1761.2" cy="510.3" r="3.9" fill="#0000ff"/>
<circle cx="1677.8" cy="521.4" r="3.9" fill="#0000ff"/>
<circle cx="1715.0" cy="519.7" r="3.9" fill="#0000ff"/>
<circle cx="1744.4" cy="518.7" r="3.9" fill="#0000ff"/>
<circle cx="1666.3" cy="530.3" r="3.9" fill="#0000ff"/>
<circle cx="1656.2" cy="527.1" r="3.9" fill="#0000ff"/>
<circle cx="1685.6" cy="529.2" r="3.9" fill="#0000ff"/>
<circle cx="1716.5" cy="531.9" r="3.9" fill="#0000ff"/>
<circle cx="1781.6" cy="539.7" r="3.9" fill="#0000ff"/>
<circle cx="1656.2" cy="551.3" r="3.9" fill="#0000ff"/>
<circle cx="1712.9" cy="552.3" r="3.9" fill="#0000ff"/>
<circle cx="1772.8" cy="557.6" r="3.9" fill="#0000ff"/>
<circle cx="1788.6" cy="562.8" r="3.9" fill="#0000ff"/>
<circle cx="1830.6" cy="563.9" r="3.9" fill="#0000ff"/>
<circle cx="1896.7" cy="558.2" r="3.9" fill="#0000ff"/>
<circle cx="1690.9" cy="572.7" r="3.9" fill="#0000ff"/>
<circle cx="1714.4" cy="571.6" r="3.9" fill="#0000ff"/>
<circle cx="1794.9" cy="578.6" r="3.9" fill="#0000ff"/>
<circle cx="1677.2" cy="585.3" r="3.9" fill="#0000ff"/>
<circle cx="1853.1" cy="590.8" r="3.9" fill="#0000ff"/>
<circle cx="1890.4" cy="591.2" r="3.9" fill="#0000ff"/>
<circle cx="1716.5" cy="597.5" r="3.9" fill="#0000ff"/>
<circle cx="1893.6" cy="598.5" r="3.9" fill="#0000ff"/>
<circle cx="1662.5" cy="604.8" r="3.9" fill="#0000ff"/>
<circle cx="1818.0" cy="604.8" r="3.9" fill="#0000ff"/>
<circle cx="1828.5" cy="605.9" r="3.9" fill="#0000ff"/>
<circle cx="1837.9" cy="641.6" r="3.9" fill="#0000ff"/>
<circle cx="1794.9" cy="661.6" r="3.9" fill="#0000ff"/>
<circle cx="1732.9" cy="731.3" r="3.9" fill="#0000ff"/>
<circle cx="1627.0" cy="354.2" r="3.9" fill="#008000"/>
<circle cx="1749.5" cy="359.2" r="3.9" fill="#008000"/>
<circle cx="1752.0" cy="394.9" r="3.9" fill="#008000"/>
<circle cx="1639.2" cy="439.0" r="3.9" fill="#008000"/>
<circle cx="1619.2" cy="510.0" r="3.9" fill="#008000"/>
<circle cx="1633.3" cy="512.1" r="3.9" fill="#008000"/>
<circle cx="1548.8" cy="548.9" r="3.9" fill="#008000"/>
<circle cx="1582.9" cy="556.3" r="3.9" fill="#008000"/>
<circle cx="1629.1" cy="565.7" r="3.9" fill="#008000"/>
<circle cx="1622.4" cy="579.8" r="3.9" fill="#008000"/>
<circle cx="1622.4" cy="636.1" r="3.9" fill="#008000"/>
<circle cx="1614.4" cy="643.4" r="3.9" fill="#008000"/>
<circle cx="1604.9" cy="661.3" r="3.9" fill="#008000"/>
<circle cx="1682.9" cy="431.9" r="3.9" fill="#008000"/>
<circle cx="1712.9" cy="454.6" r="3.9" fill="#008000"/>
<circle cx="1751.8" cy="475.6" r="3.9" fill="#008000"/>
<circle cx="1668.8" cy="488.2" r="3.9" fill="#008000"/>
<circle cx="1795.9" cy="486.6" r="3.9" fill="#008000"/>
<circle cx="1696.7" cy="495.6" r="3.9" fill="#008000"/>
<circle cx="1860.4" cy="506.7" r="3.9" fill="#008000"/>
<circle cx="1654.1" cy="525.0" r="3.9" fill="#008000"/>
<circle cx="1660.4" cy="536.6" r="3.9" fill="#008000"/>
<circle cx="1678.3" cy="538.7" r="3.9" fill="#008000"/>
<circle cx="1717.1" cy="538.7" r="3.9" fill="#008000"/>
<circle cx="1830.6" cy="545.0" r="3.9" fill="#008000"/>
<circle cx="1715.0" cy="548.1" r="3.9" fill="#008000"/>
<circle cx="1688.8" cy="549.2" r="3.9" fill="#008000"/>
<circle cx="1703.5" cy="550.2" r="3.9" fill="#008000"/>
<circle cx="1670.9" cy="554.4" r="3.9" fill="#008000"/>
<circle cx="1717.1" cy="554.4" r="3.9" fill="#008000"/>
<circle cx="1752.4" cy="554.4" r="3.9" fill="#008000"/>
<circle cx="1656.2" cy="557.6" r="3.9" fill="#008000"/>
<circle cx="1707.7" cy="560.1" r="3.9" fill="#008000"/>
<circle cx="1727.6" cy="562.8" r="3.9" fill="#008000"/>
<circle cx="1764.0" cy="562.8" r="3.9" fill="#008000"/>
<circle cx="1735.4" cy="566.0" r="3.9" fill="#008000"/>
<circle cx="1899.9" cy="556.5" r="3.9" fill="#008000"/>
<circle cx="1847.4" cy="557.6" r="3.9" fill="#008000"/>
<circle cx="1735.4" cy="571.2" r="3.9" fill="#008000"/>
<circle cx="1805.4" cy="579.2" r="3.9" fill="#008000"/>
<circle cx="1837.9" cy="577.1" r="3.9" fill="#008000"/>
<circle cx="1852.2" cy="577.5" r="3.9" fill="#008000"/>
<circle cx="1673.0" cy="582.1" r="3.9" fill="#008000"/>
<circle cx="1754.9" cy="581.7" r="3.9" fill="#008000"/>
<circle cx="1769.0" cy="577.5" r="3.9" fill="#008000"/>
<circle cx="1813.3" cy="585.9" r="3.9" fill="#008000"/>
<circle cx="1917.8" cy="581.7" r="3.9" fill="#008000"/>
<circle cx="1772.4" cy="591.6" r="3.9" fill="#008000"/>
<circle cx="1765.4" cy="593.3" r="3.9" fill="#008000"/>
<circle cx="1854.3" cy="598.9" r="3.9" fill="#008000"/>
<circle cx="1672.0" cy="602.3" r="3.9" fill="#008000"/>
<circle cx="1711.9" cy="604.8" r="3.9" fill="#008000"/>
<circle cx="1739.2" cy="609.0" r="3.9" fill="#008000"/>
<circle cx="1743.4" cy="609.0" r="3.9" fill="#008000"/>
<circle cx="1754.9" cy="610.1" r="3.9" fill="#008000"/>
<circle cx="1792.8" cy="608.0" r="3.9" fill="#008000"/>
<circle cx="1881.6" cy="611.1" r="3.9" fill="#008000"/>
<circle cx="1849.5" cy="618.1" r="3.9" fill="#008000"/>
<circle cx="1864.2" cy="623.7" r="3.9" fill="#008000"/>
<circle cx="1926.2" cy="626.9" r="3.9" fill="#008000"/>
<circle cx="1736.0" cy="630.7" r="3.9" fill="#008000"/>
<circle cx="1786.5" cy="622.7" r="3.9" fill="#008000"/>
<circle cx="1733.9" cy="638.4" r="3.9" fill="#008000"/>
<circle cx="1788.6" cy="638.4" r="3.9" fill="#008000"/>
<circle cx="1722.4" cy="645.4" r="3.9" fill="#008000"/>
<circle cx="1813.3" cy="655.3" r="3.9" fill="#008000"/>
<circle cx="1858.9" cy="664.7" r="3.9" fill="#008000"/>
<circle cx="1837.9" cy="666.4" r="3.9" fill="#008000"/>
<circle cx="1925.1" cy="661.6" r="3.9" fill="#008000"/>
<circle cx="1759.1" cy="670.0" r="3.9" fill="#008000"/>
<circle cx="1887.3" cy="672.7" r="3.9" fill="#008000"/>
<circle cx="1878.3" cy="677.7" r="3.9" fill="#008000"/>
<circle cx="1900.5" cy="713.0" r="3.9" fill="#008000"/>
<circle cx="1829.9" cy="751.5" r="3.9" fill="#008000"/>
<circle cx="1849.5" cy="762.8" r="3.9" fill="#008000"/>
<circle cx="1916.7" cy="799.2" r="3.9" fill="#008000"/>
<circle cx="1972.4" cy="652.9" r="3.9" fill="#008000"/>
<circle cx="1816.9" cy="476.7" r="3.9" fill="#ff0000"/>
<circle cx="1877.4" cy="479.8" r="3.9" fill="#ff0000"/>
<circle cx="1673.0" cy="487.2" r="3.9" fill="#ff0000"/>
<circle cx="1742.3" cy="493.5" r="3.9" fill="#ff0000"/>
<circle cx="1705.2" cy="508.2" r="3.9" fill="#ff0000"/>
<circle cx="1760.6" cy="517.6" r="3.9" fill="#ff0000"/>
<circle cx="1778.1" cy="528.2" r="3.9" fill="#ff0000"/>
<circle cx="1800.1" cy="529.6" r="3.9" fill="#ff0000"/>
<circle cx="1929.3" cy="528.6" r="3.9" fill="#ff0000"/>
<circle cx="1746.5" cy="537.6" r="3.9" fill="#ff0000"/>
<circle cx="1790.7" cy="538.7" r="3.9" fill="#ff0000"/>
<circle cx="1911.5" cy="546.4" r="3.9" fill="#ff0000"/>
<circle cx="1690.9" cy="548.1" r="3.9" fill="#ff0000"/>
<circle cx="1813.8" cy="557.1" r="3.9" fill="#ff0000"/>
<circle cx="1785.4" cy="562.8" r="3.9" fill="#ff0000"/>
<circle cx="1769.6" cy="571.2" r="3.9" fill="#ff0000"/>
<circle cx="1728.3" cy="574.4" r="3.9" fill="#ff0000"/>
<circle cx="1797.0" cy="573.3" r="3.9" fill="#ff0000"/>
<circle cx="1815.9" cy="574.4" r="3.9" fill="#ff0000"/>
<circle cx="1792.8" cy="575.4" r="3.9" fill="#ff0000"/>
<circle cx="1950.3" cy="574.8" r="3.9" fill="#ff0000"/>
<circle cx="1781.6" cy="581.1" r="3.9" fill="#ff0000"/>
<circle cx="1890.4" cy="585.9" r="3.9" fill="#ff0000"/>
<circle cx="1871.5" cy="591.2" r="3.9" fill="#ff0000"/>
<circle cx="1884.8" cy="591.8" r="3.9" fill="#ff0000"/>
<circle cx="1689.8" cy="595.8" r="3.9" fill="#ff0000"/>
<circle cx="1700.3" cy="595.8" r="3.9" fill="#ff0000"/>
<circle cx="1715.0" cy="602.7" r="3.9" fill="#ff0000"/>
<circle cx="1893.6" cy="606.9" r="3.9" fill="#ff0000"/>
<circle cx="1827.4" cy="609.0" r="3.9" fill="#ff0000"/>
<circle cx="1801.2" cy="614.3" r="3.9" fill="#ff0000"/>
<circle cx="1938.8" cy="616.4" r="3.9" fill="#ff0000"/>
<circle cx="1861.0" cy="621.6" r="3.9" fill="#ff0000"/>
<circle cx="1877.2" cy="623.7" r="3.9" fill="#ff0000"/>
<circle cx="1689.8" cy="625.8" r="3.9" fill="#ff0000"/>
<circle cx="1775.5" cy="627.5" r="3.9" fill="#ff0000"/>
<circle cx="1896.7" cy="627.5" r="3.9" fill="#ff0000"/>
<circle cx="1863.1" cy="627.9" r="3.9" fill="#ff0000"/>
<circle cx="1804.3" cy="630.0" r="3.9" fill="#ff0000"/>
<circle cx="1871.5" cy="632.1" r="3.9" fill="#ff0000"/>
<circle cx="1866.3" cy="633.2" r="3.9" fill="#ff0000"/>
<circle cx="1834.8" cy="637.4" r="3.9" fill="#ff0000"/>
<circle cx="1691.5" cy="642.2" r="3.9" fill="#ff0000"/>
<circle cx="1827.4" cy="644.7" r="3.9" fill="#ff0000"/>
<circle cx="1910.8" cy="648.9" r="3.9" fill="#ff0000"/>
<circle cx="1861.0" cy="651.1" r="3.9" fill="#ff0000"/>
<circle cx="1774.9" cy="651.1" r="3.9" fill="#ff0000"/>
<circle cx="1688.8" cy="652.1" r="3.9" fill="#ff0000"/>
<circle cx="1793.2" cy="657.4" r="3.9" fill="#ff0000"/>
<circle cx="1786.5" cy="659.5" r="3.9" fill="#ff0000"/>
<circle cx="1819.4" cy="663.7" r="3.9" fill="#ff0000"/>
<circle cx="1903.7" cy="664.7" r="3.9" fill="#ff0000"/>
<circle cx="1896.7" cy="668.9" r="3.9" fill="#ff0000"/>
<circle cx="1908.7" cy="671.0" r="3.9" fill="#ff0000"/>
<circle cx="1953.9" cy="672.7" r="3.9" fill="#ff0000"/>
<circle cx="1878.3" cy="673.1" r="3.9" fill="#ff0000"/>
<circle cx="1801.2" cy="673.1" r="3.9" fill="#ff0000"/>
<circle cx="1839.0" cy="676.3" r="3.9" fill="#ff0000"/>
<circle cx="1738.8" cy="679.4" r="3.9" fill="#ff0000"/>
<circle cx="1903.5" cy="681.5" r="3.9" fill="#ff0000"/>
<circle cx="1868.4" cy="687.4" r="3.9" fill="#ff0000"/>
<circle cx="1968.2" cy="689.9" r="3.9" fill="#ff0000"/>
<circle cx="1901.4" cy="693.1" r="3.9" fill="#ff0000"/>
<circle cx="1830.6" cy="696.8" r="3.9" fill="#ff0000"/>
<circle cx="1874.1" cy="696.8" r="3.9" fill="#ff0000"/>
<circle cx="1862.7" cy="705.0" r="3.9" fill="#ff0000"/>
<circle cx="1870.5" cy="707.8" r="3.9" fill="#ff0000"/>
<circle cx="1869.4" cy="713.0" r="3.9" fill="#ff0000"/>
<circle cx="1945.5" cy="713.0" r="3.9" fill="#ff0000"/>
<circle cx="1839.0" cy="719.3" r="3.9" fill="#ff0000"/>
<circle cx="1708.3" cy="721.8" r="3.9" fill="#ff0000"/>
<circle cx="1883.7" cy="728.8" r="3.9" fill="#ff0000"/>
<circle cx="1915.7" cy="733.4" r="3.9" fill="#ff0000"/>
<circle cx="1870.5" cy="737.6" r="3.9" fill="#ff0000"/>
<circle cx="1894.2" cy="742.4" r="3.9" fill="#ff0000"/>
<circle cx="1854.3" cy="744.5" r="3.9" fill="#ff0000"/>
<circle cx="1880.4" cy="748.7" r="3.9" fill="#ff0000"/>
<circle cx="1887.7" cy="769.1" r="3.9" fill="#ff0000"/>
<circle cx="1812.7" cy="771.2" r="3.9" fill="#ff0000"/>
<circle cx="1903.1" cy="772.9" r="3.9" fill="#ff0000"/>
<circle cx="1866.3" cy="774.6" r="3.9" fill="#ff0000"/>
<circle cx="1794.9" cy="793.9" r="3.9" fill="#ff0000"/>
<circle cx="1916.3" cy="794.5" r="3.9" fill="#ff0000"/>
<path d="M1440.8 325.2 L1482.8 321.0 L1525.0 334.6 L1567.0 331.5 L1596.2 350.2 L1609.0 359.8 L1634.0 383.8 L1651.1 403.9 L1664.8 425.0 L1677.4 441.8 L1692.1 462.8 L1702.6 485.9 L1711.0 517.4 L1707.9 546.8 L1693.2 559.4 L1651.1 580.4 L1609.1 607.7 L1566.9 626.6 L1524.9 628.7 L1482.8 614.0 L1456.5 585.7 L1440.8 551.0 L1417.6 518.4 L1409.2 484.8 L1402.9 451.0 L1401.3 417.4 L1407.1 383.8 L1412.4 350.4Z" stroke="#00ffff" stroke-width="6.05" fill="none" stroke-linejoin="round"/>
<path d="M1482.8 399.7 L1525.0 391.3 L1567.0 395.5 L1591.3 418.7 L1609.1 435.5 L1633.3 454.4 L1650.1 481.7 L1652.2 490.1 L1650.1 515.3 L1609.1 552.1 L1566.9 583.6 L1524.9 576.2 L1501.7 552.1 L1480.7 518.4 L1457.6 484.8 L1453.4 451.0 L1467.0 417.4Z" stroke="#00ffff" stroke-width="6.05" fill="none" stroke-linejoin="round"/>
<path d="M1525.0 448.1 L1567.0 441.8 L1587.1 464.9 L1608.1 483.8 L1611.2 488.0 L1603.9 511.1 L1566.9 540.5 L1524.9 517.4 L1506.9 484.8Z" stroke="#00ffff" stroke-width="6.05" fill="none" stroke-linejoin="round"/>
<path d="M1609.1 414.5 L1651.1 407.1 L1693.2 429.2 L1735.4 460.7 L1777.4 492.2 L1801.2 518.3 L1819.4 545.0 L1828.5 563.9 L1833.7 585.7 L1819.4 599.6 L1777.4 618.5 L1735.4 618.5 L1693.4 619.5 L1651.1 637.1 L1609.1 642.4 L1566.9 621.4 L1540.8 585.7 L1534.5 552.1 L1538.7 518.4 L1545.0 484.8 L1570.3 454.4Z" stroke="#0000ff" stroke-width="6.05" fill="none" stroke-linejoin="round"/>
<path d="M1609.1 470.1 L1651.1 460.7 L1693.2 473.3 L1711.0 484.8 L1735.4 506.9 L1748.6 518.3 L1763.3 547.1 L1754.9 559.7 L1735.4 579.6 L1693.4 590.1 L1651.1 602.5 L1609.1 599.3 L1587.1 585.7 L1578.7 552.1 L1580.8 518.4 L1593.4 484.8Z" stroke="#0000ff" stroke-width="6.05" fill="none" stroke-linejoin="round"/>
<path d="M1651.1 495.3 L1693.2 512.1 L1697.4 518.4 L1695.3 552.1 L1651.1 573.1 L1624.9 555.2 L1618.6 552.1 L1618.6 518.4Z" stroke="#0000ff" stroke-width="6.05" fill="none" stroke-linejoin="round"/>
<path d="M1651.1 452.3 L1693.2 454.4 L1735.4 462.0 L1777.4 479.8 L1797.0 492.4 L1819.4 507.1 L1841.1 526.1 L1861.5 545.0 L1883.1 566.0 L1898.8 585.7 L1909.4 619.3 L1903.1 652.9 L1861.5 678.4 L1830.6 681.5 L1819.4 680.5 L1777.4 672.1 L1735.4 660.5 L1700.3 650.0 L1651.1 642.4 L1622.8 619.3 L1609.1 609.8 L1594.4 585.7 L1590.2 552.1 L1599.7 518.4 L1618.6 484.8Z" stroke="#008000" stroke-width="6.05" fill="none" stroke-linejoin="round"/>
<path d="M1693.2 484.8 L1735.4 498.7 L1777.4 517.6 L1815.9 552.1 L1825.3 585.7 L1820.1 619.3 L1777.4 620.6 L1735.4 620.6 L1695.1 619.3 L1651.1 599.3 L1636.4 582.5 L1630.1 552.1 L1636.4 518.4 L1651.1 500.6Z" stroke="#008000" stroke-width="6.05" fill="none" stroke-linejoin="round"/>
<path d="M1693.4 515.5 L1735.4 532.4 L1754.9 552.1 L1766.5 585.7 L1735.4 593.3 L1693.4 590.1 L1677.2 574.4 L1662.5 552.1 L1689.8 518.3Z" stroke="#008000" stroke-width="6.05" fill="none" stroke-linejoin="round"/>
<path d="M1735.4 498.7 L1777.4 502.9 L1819.4 510.3 L1861.5 527.1 L1903.5 551.3 L1937.7 585.7 L1946.1 599.6 L1961.9 619.3 L1970.3 652.9 L1968.2 687.8 L1952.4 720.2 L1927.2 755.0 L1903.5 776.1 L1861.5 764.5 L1832.7 740.3 L1810.6 720.2 L1777.4 694.1 L1724.5 652.9 L1695.1 619.3 L1697.2 585.7 L1699.9 552.1 L1709.8 517.6Z" stroke="#ff0000" stroke-width="6.05" fill="none" stroke-linejoin="round"/>
<path d="M1777.4 542.9 L1819.4 542.9 L1861.5 559.7 L1903.5 581.7 L1910.4 585.7 L1929.3 619.3 L1932.5 652.9 L1926.2 686.6 L1903.5 708.8 L1861.5 713.0 L1830.6 686.6 L1786.5 652.9 L1759.1 619.3 L1748.6 585.7 L1754.9 552.1Z" stroke="#ff0000" stroke-width="6.05" fill="none" stroke-linejoin="round"/>
<path d="M1819.4 579.6 L1861.5 584.9 L1895.7 619.3 L1891.5 652.9 L1861.5 670.0 L1830.6 652.9 L1808.5 619.3 L1802.2 585.7Z" stroke="#ff0000" stroke-width="6.05" fill="none" stroke-linejoin="round"/>
</g>
<g clip-path="url(#cpc)">
<path d="M157.40 1906.50 L157.40 1555.21 L210.00 1555.21 L210.00 1174.01 L262.60 1174.01 L262.60 1582.97 L315.20 1582.97 L315.20 1739.27 L367.80 1739.27 L367.80 1821.25 L420.40 1821.25 L420.40 1860.32 L473.00 1860.32 L473.00 1874.81 L525.60 1874.81 L525.60 1885.47 L578.20 1885.47 L578.20 1896.22 L630.80 1896.22 L630.80 1890.98 L683.40 1890.98 L683.40 1897.15 L736.00 1897.15 L736.00 1898.55 L788.60 1898.55 L788.60 1896.68 L841.20 1896.68 L841.20 1899.49 L893.80 1899.49 L893.80 1901.83 L946.40 1901.83 L946.40 1856.68 L999.00 1856.68 L999.00 1906.50" stroke="#00ffff" stroke-width="3.60" fill="none" stroke-linejoin="miter"/>
<path d="M157.40 1906.50 L157.40 1785.07 L210.00 1785.07 L210.00 1318.24 L262.60 1318.24 L262.60 1360.12 L315.20 1360.12 L315.20 1669.25 L367.80 1669.25 L367.80 1781.89 L420.40 1781.89 L420.40 1827.98 L473.00 1827.98 L473.00 1867.99 L525.60 1867.99 L525.60 1884.25 L578.20 1884.25 L578.20 1887.90 L630.80 1887.90 L630.80 1892.38 L683.40 1892.38 L683.40 1899.58 L736.00 1899.58 L736.00 1895.10 L788.60 1895.10 L788.60 1897.81 L841.20 1897.81 L841.20 1901.36 L893.80 1901.36 L893.80 1900.52 L946.40 1900.52 L946.40 1861.72 L999.00 1861.72 L999.00 1906.50" stroke="#0000ff" stroke-width="3.60" fill="none" stroke-linejoin="miter"/>
<path d="M157.40 1906.50 L157.40 1862.10 L210.00 1862.10 L210.00 1628.12 L262.60 1628.12 L262.60 1394.71 L315.20 1394.71 L315.20 1514.27 L367.80 1514.27 L367.80 1661.96 L420.40 1661.96 L420.40 1775.16 L473.00 1775.16 L473.00 1824.89 L525.60 1824.89 L525.60 1852.56 L578.20 1852.56 L578.20 1879.30 L630.80 1879.30 L630.80 1887.90 L683.40 1887.90 L683.40 1894.16 L736.00 1894.16 L736.00 1899.21 L788.60 1899.21 L788.60 1897.62 L841.20 1897.62 L841.20 1895.10 L893.80 1895.10 L893.80 1897.62 L946.40 1897.62 L946.40 1866.87 L999.00 1866.87 L999.00 1906.50" stroke="#008000" stroke-width="3.60" fill="none" stroke-linejoin="miter"/>
<path d="M157.40 1906.50 L157.40 1902.76 L210.00 1902.76 L210.00 1896.22 L262.60 1896.22 L262.60 1854.90 L315.20 1854.90 L315.20 1781.89 L367.80 1781.89 L367.80 1704.49 L420.40 1704.49 L420.40 1692.25 L473.00 1692.25 L473.00 1716.65 L525.60 1716.65 L525.60 1717.11 L578.20 1717.11 L578.20 1741.32 L630.80 1741.32 L630.80 1787.78 L683.40 1787.78 L683.40 1795.54 L736.00 1795.54 L736.00 1818.07 L788.60 1818.07 L788.60 1841.81 L841.20 1841.81 L841.20 1853.97 L893.80 1853.97 L893.80 1861.63 L946.40 1861.63 L946.40 1664.30 L999.00 1664.30 L999.00 1906.50" stroke="#ff0000" stroke-width="3.60" fill="none" stroke-linejoin="miter"/>
<path d="M249.24 1065.20V1107.27" stroke="#00ffff" stroke-width="17.10"/>
<path d="M276.38 1065.20V1107.27" stroke="#0000ff" stroke-width="17.10"/>
<path d="M328.24 1065.20V1107.27" stroke="#008000" stroke-width="17.10"/>
<path d="M562.42 1065.20V1107.27" stroke="#ff0000" stroke-width="17.10"/>
</g>
<g clip-path="url(#cpd)">
<path d="M1209.40 1906.50 L1209.40 1906.50 L1247.65 1906.50 L1247.65 1900.04 L1285.90 1900.04 L1285.90 1905.83 L1324.15 1905.83 L1324.15 1905.83 L1362.40 1905.83 L1362.40 1905.83 L1400.65 1905.83 L1400.65 1905.83 L1438.90 1905.83 L1438.90 1905.15 L1477.15 1905.15 L1477.15 1901.42 L1515.40 1901.42 L1515.40 1900.51 L1553.65 1900.51 L1553.65 1895.09 L1591.90 1895.09 L1591.90 1866.18 L1630.15 1866.18 L1630.15 1832.80 L1668.40 1832.80 L1668.40 1748.07 L1706.65 1748.07 L1706.65 1615.04 L1744.90 1615.04 L1744.90 1438.27 L1783.15 1438.27 L1783.15 1324.66 L1821.40 1324.66 L1821.40 1204.52 L1859.65 1204.52 L1859.65 1371.00 L1897.90 1371.00 L1897.90 1613.49 L1936.15 1613.49 L1936.15 1787.14 L1974.40 1787.14 L1974.40 1859.39 L2012.65 1859.39 L2012.65 1884.26 L2050.90 1884.26 L2050.90 1906.50" stroke="#00ffff" stroke-width="3.60" fill="none" stroke-linejoin="miter"/>
<path d="M1209.40 1906.50 L1209.40 1906.50 L1247.65 1906.50 L1247.65 1903.81 L1285.90 1903.81 L1285.90 1906.50 L1324.15 1906.50 L1324.15 1906.50 L1362.40 1906.50 L1362.40 1906.50 L1400.65 1906.50 L1400.65 1902.80 L1438.90 1902.80 L1438.90 1898.22 L1477.15 1898.22 L1477.15 1898.22 L1515.40 1898.22 L1515.40 1894.86 L1553.65 1894.86 L1553.65 1863.93 L1591.90 1863.93 L1591.90 1830.72 L1630.15 1830.72 L1630.15 1775.83 L1668.40 1775.83 L1668.40 1737.47 L1706.65 1737.47 L1706.65 1708.29 L1744.90 1708.29 L1744.90 1469.19 L1783.15 1469.19 L1783.15 1132.30 L1821.40 1132.30 L1821.40 1169.08 L1859.65 1169.08 L1859.65 1454.32 L1897.90 1454.32 L1897.90 1685.07 L1936.15 1685.07 L1936.15 1833.88 L1974.40 1833.88 L1974.40 1887.65 L2012.65 1887.65 L2012.65 1899.16 L2050.90 1899.16 L2050.90 1906.50" stroke="#0000ff" stroke-width="3.60" fill="none" stroke-linejoin="miter"/>
<path d="M1209.40 1906.50 L1209.40 1906.50 L1247.65 1906.50 L1247.65 1905.83 L1285.90 1905.83 L1285.90 1905.49 L1324.15 1905.49 L1324.15 1905.49 L1362.40 1905.49 L1362.40 1904.82 L1400.65 1904.82 L1400.65 1899.87 L1438.90 1899.87 L1438.90 1905.49 L1477.15 1905.49 L1477.15 1889.20 L1515.40 1889.20 L1515.40 1885.84 L1553.65 1885.84 L1553.65 1862.11 L1591.90 1862.11 L1591.90 1856.70 L1630.15 1856.70 L1630.15 1832.77 L1668.40 1832.77 L1668.40 1686.62 L1706.65 1686.62 L1706.65 1398.09 L1744.90 1398.09 L1744.90 1156.40 L1783.15 1156.40 L1783.15 1247.93 L1821.40 1247.93 L1821.40 1424.27 L1859.65 1424.27 L1859.65 1613.69 L1897.90 1613.69 L1897.90 1762.97 L1936.15 1762.97 L1936.15 1836.37 L1974.40 1836.37 L1974.40 1882.67 L2012.65 1882.67 L2012.65 1900.98 L2050.90 1900.98 L2050.90 1906.50" stroke="#008000" stroke-width="3.60" fill="none" stroke-linejoin="miter"/>
<path d="M1209.40 1906.50 L1209.40 1902.29 L1247.65 1902.29 L1247.65 1895.09 L1285.90 1895.09 L1285.90 1899.60 L1324.15 1899.60 L1324.15 1893.95 L1362.40 1893.95 L1362.40 1883.78 L1400.65 1883.78 L1400.65 1879.28 L1438.90 1879.28 L1438.90 1844.71 L1477.15 1844.71 L1477.15 1786.46 L1515.40 1786.46 L1515.40 1750.09 L1553.65 1750.09 L1553.65 1671.95 L1591.90 1671.95 L1591.90 1573.35 L1630.15 1573.35 L1630.15 1498.50 L1668.40 1498.50 L1668.40 1428.98 L1706.65 1428.98 L1706.65 1410.27 L1744.90 1410.27 L1744.90 1588.86 L1783.15 1588.86 L1783.15 1649.16 L1821.40 1649.16 L1821.40 1735.62 L1859.65 1735.62 L1859.65 1792.32 L1897.90 1792.32 L1897.90 1830.92 L1936.15 1830.92 L1936.15 1878.37 L1974.40 1878.37 L1974.40 1886.51 L2012.65 1886.51 L2012.65 1892.37 L2050.90 1892.37 L2050.90 1906.50" stroke="#ff0000" stroke-width="3.60" fill="none" stroke-linejoin="miter"/>
<path d="M1825.34 1065.20V1107.27" stroke="#00ffff" stroke-width="17.10"/>
<path d="M1813.52 1065.20V1107.27" stroke="#0000ff" stroke-width="17.10"/>
<path d="M1782.23 1065.20V1107.27" stroke="#008000" stroke-width="17.10"/>
<path d="M1692.00 1065.20V1107.27" stroke="#ff0000" stroke-width="17.10"/>
</g>
<path d="M157.40 854.80v12.15M325.72 854.80v12.15M494.04 854.80v12.15M662.36 854.80v12.15M830.68 854.80v12.15M999.00 854.80v12.15M157.40 854.80h-12.15M157.40 686.54h-12.15M157.40 518.28h-12.15M157.40 350.02h-12.15M157.40 181.76h-12.15M157.40 13.50h-12.15" stroke="#000" stroke-width="2.78" fill="none"/>
<rect x="157.40" y="13.50" width="841.60" height="841.30" fill="none" stroke="#000" stroke-width="2.78"/>
<text x="157.40" y="910.10" text-anchor="middle">0.0</text>
<text x="325.72" y="910.10" text-anchor="middle">0.5</text>
<text x="494.04" y="910.10" text-anchor="middle">1.0</text>
<text x="662.36" y="910.10" text-anchor="middle">1.5</text>
<text x="830.68" y="910.10" text-anchor="middle">2.0</text>
<text x="999.00" y="910.10" text-anchor="middle">2.5</text>
<text x="131.80" y="869.00" text-anchor="end">0.0</text>
<text x="131.80" y="700.74" text-anchor="end">0.5</text>
<text x="131.80" y="532.48" text-anchor="end">1.0</text>
<text x="131.80" y="364.22" text-anchor="end">1.5</text>
<text x="131.80" y="195.96" text-anchor="end">2.0</text>
<text x="131.80" y="27.70" text-anchor="end">2.5</text>
<path d="M1314.59 854.90v12.15M1524.96 854.90v12.15M1735.34 854.90v12.15M1945.71 854.90v12.15M1209.40 854.90h-12.15M1209.40 686.64h-12.15M1209.40 518.38h-12.15M1209.40 350.12h-12.15M1209.40 181.86h-12.15M1209.40 13.60h-12.15" stroke="#000" stroke-width="2.78" fill="none"/>
<rect x="1209.40" y="13.60" width="841.50" height="841.30" fill="none" stroke="#000" stroke-width="2.78"/>
<text x="1314.59" y="910.20" text-anchor="middle">0.2</text>
<text x="1524.96" y="910.20" text-anchor="middle">0.4</text>
<text x="1735.34" y="910.20" text-anchor="middle">0.6</text>
<text x="1945.71" y="910.20" text-anchor="middle">0.8</text>
<text x="1183.80" y="869.10" text-anchor="end">−2.5</text>
<text x="1183.80" y="700.84" text-anchor="end">−2.0</text>
<text x="1183.80" y="532.58" text-anchor="end">−1.5</text>
<text x="1183.80" y="364.32" text-anchor="end">−1.0</text>
<text x="1183.80" y="196.06" text-anchor="end">−0.5</text>
<text x="1183.80" y="27.80" text-anchor="end">0.0</text>
<path d="M157.40 1906.50v12.15M367.80 1906.50v12.15M578.20 1906.50v12.15M788.60 1906.50v12.15M999.00 1906.50v12.15M157.40 1906.50h-12.15M157.40 1813.02h-12.15M157.40 1719.54h-12.15M157.40 1626.07h-12.15M157.40 1532.59h-12.15M157.40 1439.11h-12.15M157.40 1345.63h-12.15M157.40 1252.16h-12.15M157.40 1158.68h-12.15M157.40 1065.20h-12.15" stroke="#000" stroke-width="2.78" fill="none"/>
<rect x="157.40" y="1065.20" width="841.60" height="841.30" fill="none" stroke="#000" stroke-width="2.78"/>
<text x="157.40" y="1961.80" text-anchor="middle">0</text>
<text x="367.80" y="1961.80" text-anchor="middle">2</text>
<text x="578.20" y="1961.80" text-anchor="middle">4</text>
<text x="788.60" y="1961.80" text-anchor="middle">6</text>
<text x="999.00" y="1961.80" text-anchor="middle">8</text>
<text x="131.80" y="1920.70" text-anchor="end">0.0</text>
<text x="131.80" y="1827.22" text-anchor="end">0.1</text>
<text x="131.80" y="1733.74" text-anchor="end">0.2</text>
<text x="131.80" y="1640.27" text-anchor="end">0.3</text>
<text x="131.80" y="1546.79" text-anchor="end">0.4</text>
<text x="131.80" y="1453.31" text-anchor="end">0.5</text>
<text x="131.80" y="1359.83" text-anchor="end">0.6</text>
<text x="131.80" y="1266.36" text-anchor="end">0.7</text>
<text x="131.80" y="1172.88" text-anchor="end">0.8</text>
<text x="131.80" y="1079.40" text-anchor="end">0.9</text>
<path d="M1209.40 1906.50v12.15M1400.65 1906.50v12.15M1591.90 1906.50v12.15M1783.15 1906.50v12.15M1974.40 1906.50v12.15M1209.40 1906.50h-12.15M1209.40 1738.24h-12.15M1209.40 1569.98h-12.15M1209.40 1401.72h-12.15M1209.40 1233.46h-12.15M1209.40 1065.20h-12.15" stroke="#000" stroke-width="2.78" fill="none"/>
<rect x="1209.40" y="1065.20" width="841.50" height="841.30" fill="none" stroke="#000" stroke-width="2.78"/>
<text x="1209.40" y="1961.80" text-anchor="middle">−1.0</text>
<text x="1400.65" y="1961.80" text-anchor="middle">−0.5</text>
<text x="1591.90" y="1961.80" text-anchor="middle">0.0</text>
<text x="1783.15" y="1961.80" text-anchor="middle">0.5</text>
<text x="1974.40" y="1961.80" text-anchor="middle">1.0</text>
<text x="1183.80" y="1920.70" text-anchor="end">0.0</text>
<text x="1183.80" y="1752.44" text-anchor="end">0.5</text>
<text x="1183.80" y="1584.18" text-anchor="end">1.0</text>
<text x="1183.80" y="1415.92" text-anchor="end">1.5</text>
<text x="1183.80" y="1247.66" text-anchor="end">2.0</text>
<text x="1183.80" y="1079.40" text-anchor="end">2.5</text>
<text x="198.90" y="111.10" font-size="52.08">a)</text>
<text x="1250.90" y="111.20" font-size="52.08">b)</text>
<text x="198.90" y="1162.80" font-size="52.08">c)</text>
<text x="1250.90" y="1162.80" font-size="52.08">d)</text>
<path d="M659.00 653.00H732.70" stroke="#ff0000" stroke-width="6.05"/>
<text x="763.20" y="663.35" fill="#ff0000">SPH [4126]</text>
<path d="M659.00 703.37H732.70" stroke="#008000" stroke-width="6.05"/>
<text x="763.20" y="713.72" fill="#008000">ETD [1985]</text>
<path d="M659.00 753.74H732.70" stroke="#0000ff" stroke-width="6.05"/>
<text x="763.20" y="764.09" fill="#0000ff">LTD [1746]</text>
<path d="M659.00 804.11H732.70" stroke="#00ffff" stroke-width="6.05"/>
<text x="763.20" y="814.46" fill="#00ffff">IRR [3092]</text>
<text transform="translate(494.50 961.10) rotate(0)"><tspan>(V</tspan><tspan dx="7.64">−</tspan><tspan dx="7.64">J)</tspan><tspan font-size="26.74" dy="6.30">rest</tspan></text>
<text transform="translate(47.00 526.50) rotate(-90)"><tspan>(U</tspan><tspan dx="7.64">−</tspan><tspan dx="7.64">V)</tspan><tspan font-size="26.74" dy="6.30">rest</tspan></text>
<text x="1630.10" y="959.80" text-anchor="middle">Gini</text>
<text transform="translate(1065.50 468.70) rotate(-90)"><tspan>M</tspan><tspan font-size="26.74" dy="6.30">20</tspan></text>
<text x="578.20" y="2011.60" text-anchor="middle" font-style="italic">n</text>
<text transform="translate(48.40 1485.85) rotate(-90)" text-anchor="middle">#</text>
<text transform="translate(1529.70 2013.00) rotate(0)"><tspan>log(r</tspan><tspan font-size="26.74" dy="6.30">e</tspan><tspan dy="-6.30">/kpc)</tspan></text>
<text transform="translate(1100.30 1485.85) rotate(-90)" text-anchor="middle">#</text>
</svg>
</body></html>
